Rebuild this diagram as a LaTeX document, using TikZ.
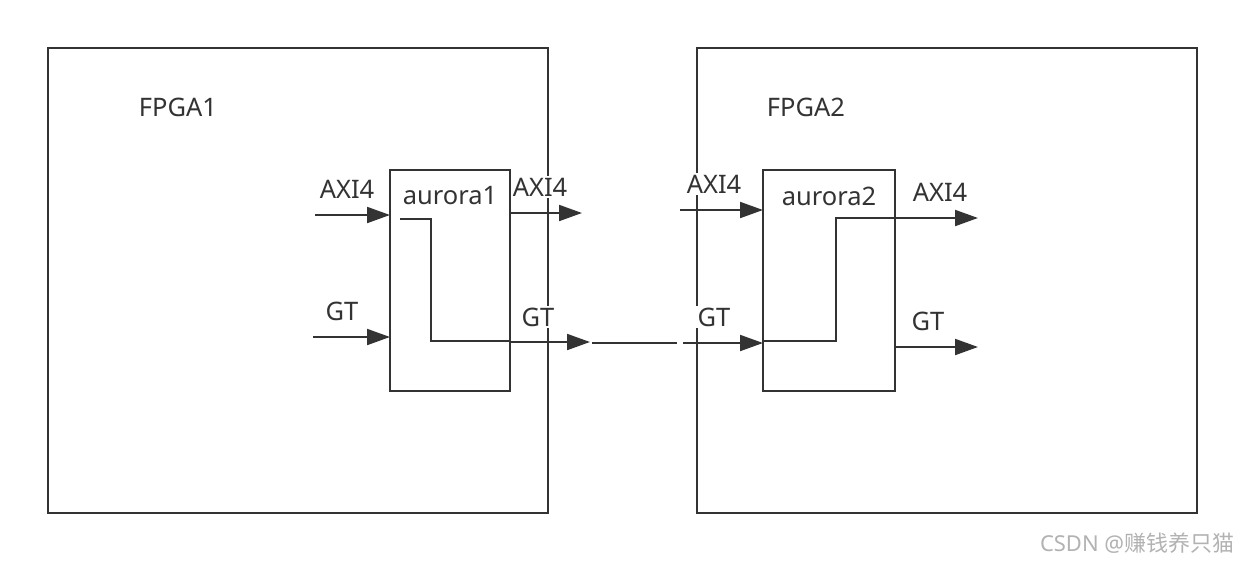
\documentclass[tikz,border=0pt]{standalone}
\usepackage{fontspec}
\setmainfont{Noto Sans}
\newfontfamily\cjk{Noto Sans CJK SC}
\usetikzlibrary{arrows.meta}
\definecolor{ink}{HTML}{333333}
\begin{document}
\begin{tikzpicture}[x=0.02cm,y=-0.02cm,
  ln/.style={draw=ink,line width=1.3pt},
  arr/.style={ln,-{Triangle[length=13pt,width=9pt]}},
  lbl/.style={font=\fontsize{14.5}{16}\selectfont,text=ink,fill=white,inner sep=1pt}]
\useasboundingbox (0,0) rectangle (1245,562);
\fill[white] (0,0) rectangle (1245,562);
\draw[ln] (48,48) rectangle (548,513);
\draw[ln] (697,48) rectangle (1197,513);
\draw[ln] (390,170) rectangle (510,391);
\draw[ln] (763,170) rectangle (895,391);
\node[lbl] (f1) at (178,107) {FPGA1};
\node[lbl] (f2) at (806,107) {FPGA2};
\node[lbl] (a1) at (450,196) {aurora1};
\node[lbl] (a2) at (829,196) {aurora2};
% FPGA1 side
\coordinate (i1a) at (315,215); \coordinate (i1ae) at (390,215);
\coordinate (i1g) at (313,337); \coordinate (i1ge) at (390,337);
\draw[arr] (i1a) -- (i1ae);
\draw[arr] (i1g) -- (i1ge);
\node[lbl] (l1) at (347,189) {AXI4};
\node[lbl] (l2) at (342,311) {GT};
\coordinate (p1) at (400,219); \coordinate (p2) at (431,219);
\coordinate (p3) at (431,341); \coordinate (p4) at (510,341);
\draw[ln] (p1) -- (p2) -- (p3) -- (p4);
\coordinate (o1a) at (510,213); \coordinate (o1ae) at (582,213);
\draw[arr] (o1a) -- (o1ae);
\coordinate (o1g) at (510,342); \coordinate (o1ge) at (590,342);
\draw[arr] (o1g) -- (o1ge);
\node[lbl] (l3) at (540,187) {AXI4};
\node[lbl] (l4) at (538,317) {GT};
% link
\coordinate (m1) at (592,343); \coordinate (m2) at (677,343);
\draw[ln] (m1) -- (m2);
% FPGA2 side
\coordinate (i2g) at (683,343); \coordinate (i2ge) at (763,343);
\draw[arr] (i2g) -- (i2ge);
\coordinate (i2a) at (680,210); \coordinate (i2ae) at (763,210);
\draw[arr] (i2a) -- (i2ae);
\node[lbl] (l5) at (714,184) {AXI4};
\node[lbl] (l6) at (714,317) {GT};
\coordinate (q1) at (763,341); \coordinate (q2) at (836,341);
\coordinate (q3) at (836,218); \coordinate (q4) at (895,218);
\draw[ln] (q1) -- (q2) -- (q3) -- (q4);
\coordinate (o2a) at (895,218); \coordinate (o2ae) at (978,218);
\draw[arr] (o2a) -- (o2ae);
\coordinate (o2g) at (895,347); \coordinate (o2ge) at (978,347);
\draw[arr] (o2g) -- (o2ge);
\node[lbl] (l7) at (940,192) {AXI4};
\node[lbl] (l8) at (928,321) {GT};
\node[font=\fontsize{12.5}{14}\selectfont,text=black!30,inner sep=0] (wm) at (1137,543) {CSDN @{\cjk 赚钱养只猫}};
\end{tikzpicture}
\end{document}
